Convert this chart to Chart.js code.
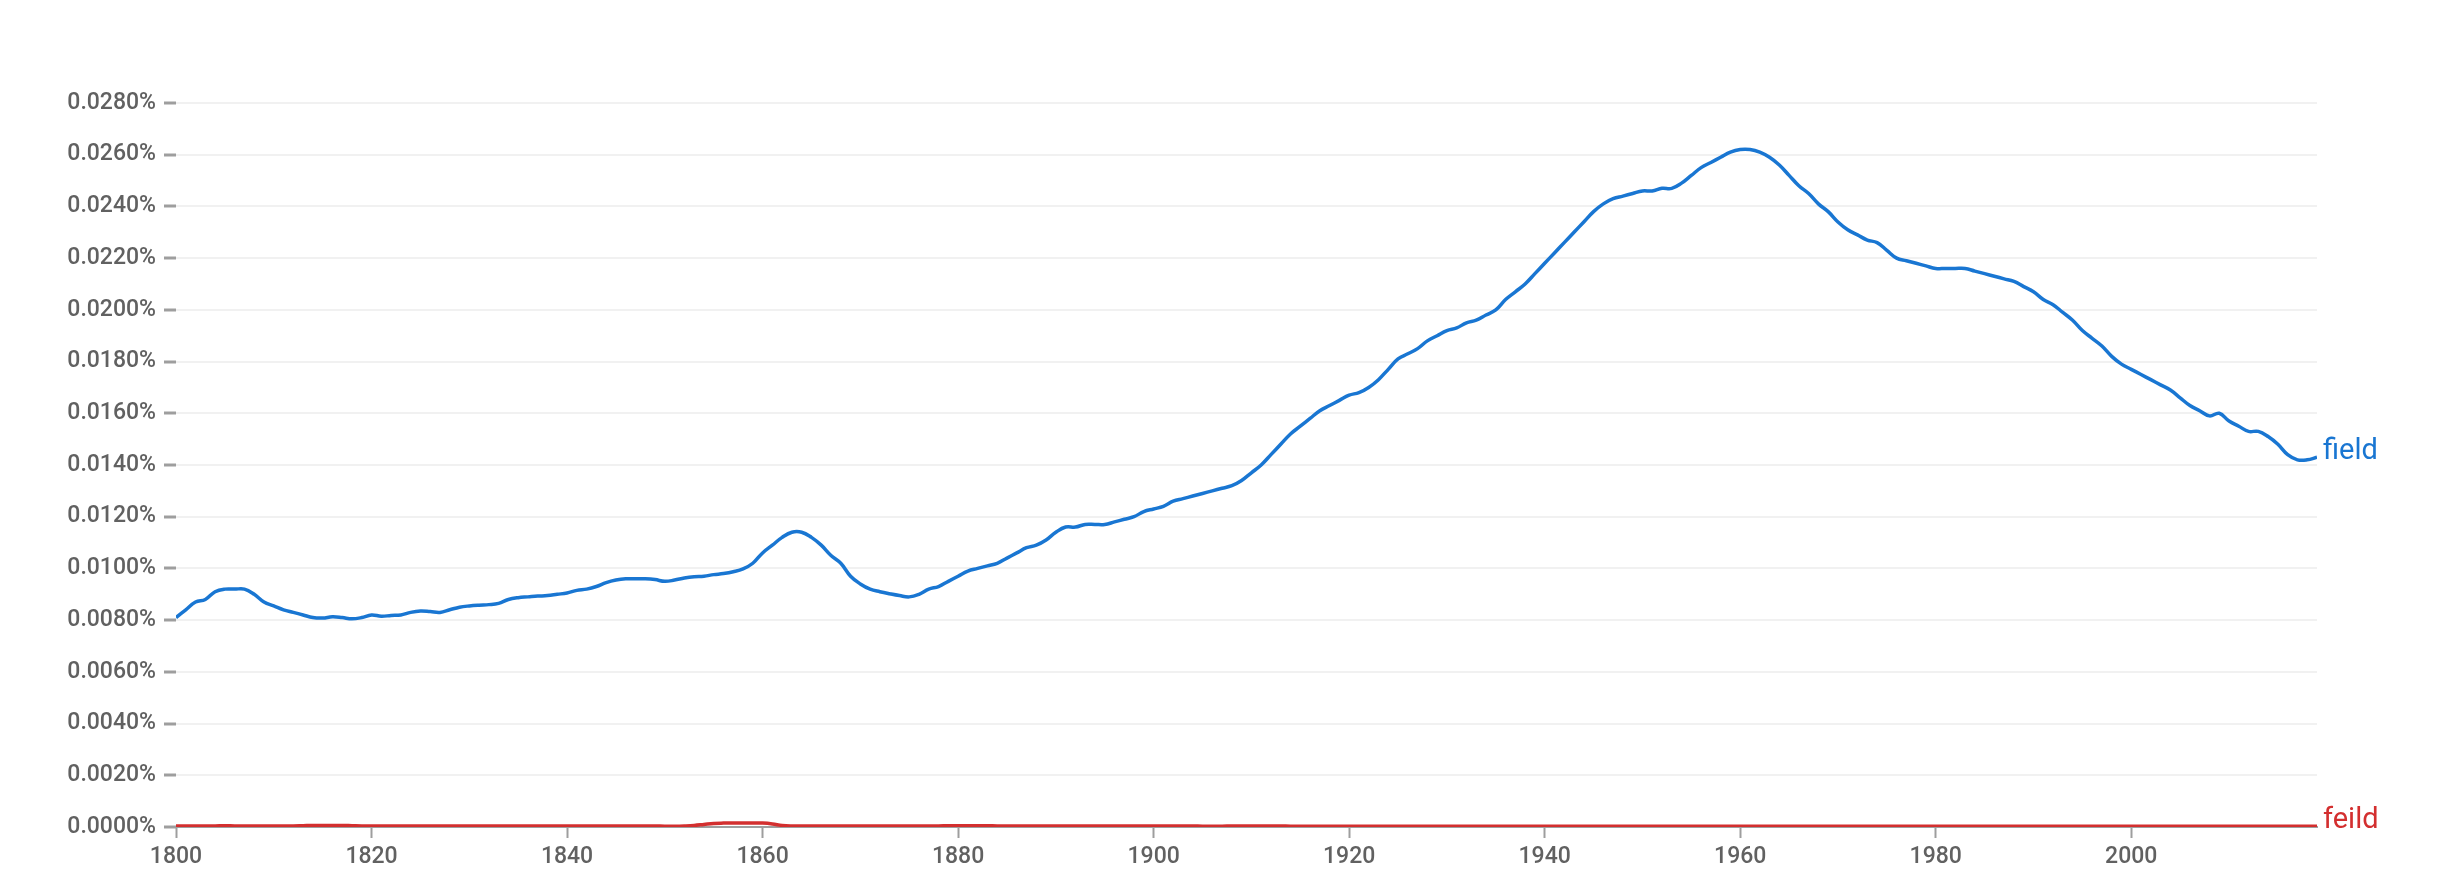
<!DOCTYPE html>
<html>
<head>
<meta charset="utf-8">
<script src="https://cdn.jsdelivr.net/npm/chart.js@4"></script>
<style>
  html, body { margin: 0; padding: 0; background: #fff; }
  #wrap { width: 2448px; height: 892px; }
</style>
</head>
<body>
<div id="wrap"><canvas id="ngram" width="2448" height="892"></canvas></div>
<script>
// years on the x axis
const firstYear = 1800;
const lastYear = 2019;
const years = Array.from({ length: lastYear - firstYear + 1 }, (_, i) => firstYear + i);

// "field" share in percent, one value per year
const fieldValues = [
  0.0081, 0.0084, 0.0087, 0.0088, 0.0091, 0.0092, 0.0092, 0.0092, 0.0090, 0.0087,   // 1800
  0.00855, 0.0084, 0.0083, 0.0082, 0.0081, 0.00808, 0.00813, 0.0081, 0.00805, 0.0081, // 1810
  0.0082, 0.00815, 0.00818, 0.0082, 0.0083, 0.00835, 0.00833, 0.0083, 0.0084, 0.0085, // 1820
  0.00855, 0.00858, 0.0086, 0.00865, 0.0088, 0.00887, 0.0089, 0.00893, 0.00895, 0.0090, // 1830
  0.00905, 0.00915, 0.0092, 0.0093, 0.00945, 0.00955, 0.0096, 0.0096, 0.0096, 0.00957, // 1840
  0.0095, 0.00955, 0.00963, 0.00968, 0.0097, 0.00976, 0.0098, 0.00987, 0.00998, 0.0102, // 1850
  0.0106, 0.0109, 0.0112, 0.0114, 0.0114, 0.0112, 0.0109, 0.0105, 0.0102, 0.0097,     // 1860
  0.0094, 0.0092, 0.0091, 0.00902, 0.00895, 0.0089, 0.0090, 0.0092, 0.0093, 0.0095,   // 1870
  0.0097, 0.0099, 0.0100, 0.0101, 0.0102, 0.0104, 0.0106, 0.0108, 0.0109, 0.0111,    // 1880
  0.0114, 0.0116, 0.0116, 0.0117, 0.0117, 0.0117, 0.0118, 0.0119, 0.0120, 0.0122,    // 1890
  0.0123, 0.0124, 0.0126, 0.0127, 0.0128, 0.0129, 0.0130, 0.0131, 0.0132, 0.0134,    // 1900
  0.0137, 0.0140, 0.0144, 0.0148, 0.0152, 0.0155, 0.0158, 0.0161, 0.0163, 0.0165,    // 1910
  0.0167, 0.0168, 0.0170, 0.0173, 0.0177, 0.0181, 0.0183, 0.0185, 0.0188, 0.0190,    // 1920
  0.0192, 0.0193, 0.0195, 0.0196, 0.0198, 0.0200, 0.0204, 0.0207, 0.0210, 0.0214,    // 1930
  0.0218, 0.0222, 0.0226, 0.0230, 0.0234, 0.0238, 0.0241, 0.0243, 0.0244, 0.0245,    // 1940
  0.0246, 0.0246, 0.0247, 0.0247, 0.0249, 0.0252, 0.0255, 0.0257, 0.0259, 0.0261,    // 1950
  0.0262, 0.0262, 0.0261, 0.0259, 0.0256, 0.0252, 0.0248, 0.0245, 0.0241, 0.0238,    // 1960
  0.0234, 0.0231, 0.0229, 0.0227, 0.0226, 0.0223, 0.0220, 0.0219, 0.0218, 0.0217,    // 1970
  0.0216, 0.0216, 0.0216, 0.0216, 0.0215, 0.0214, 0.0213, 0.0212, 0.0211, 0.0209,    // 1980
  0.0207, 0.0204, 0.0202, 0.0199, 0.0196, 0.0192, 0.0189, 0.0186, 0.0182, 0.0179,    // 1990
  0.0177, 0.0175, 0.0173, 0.0171, 0.0169, 0.0166, 0.0163, 0.0161, 0.0159, 0.0160,    // 2000
  0.0157, 0.0155, 0.0153, 0.0153, 0.0151, 0.0148, 0.0144, 0.0142, 0.0142, 0.0143     // 2010
];

// "feild" share in percent, almost flat on the floor
const feildValues = [
  0.00004, 0.00004, 0.00004, 0.00004, 0.00004, 0.00005, 0.00004, 0.00004, 0.00004, 0.00004, // 1800
  0.00004, 0.00004, 0.00004, 0.00005, 0.00006, 0.00006, 0.00006, 0.00006, 0.00005, 0.00004, // 1810
  0.00004, 0.00004, 0.00004, 0.00004, 0.00004, 0.00004, 0.00004, 0.00004, 0.00004, 0.00004, // 1820
  0.00004, 0.00004, 0.00004, 0.00004, 0.00004, 0.00004, 0.00004, 0.00004, 0.00004, 0.00004, // 1830
  0.00004, 0.00004, 0.00004, 0.00004, 0.00004, 0.00004, 0.00004, 0.00004, 0.00004, 0.00004, // 1840
  0.00003, 0.00003, 0.00004, 0.00006, 0.00010, 0.00014, 0.00015, 0.00015, 0.00015, 0.00015, // 1850
  0.00015, 0.00012, 0.00006, 0.00004, 0.00004, 0.00004, 0.00004, 0.00004, 0.00004, 0.00004, // 1860
  0.00004, 0.00004, 0.00004, 0.00004, 0.00004, 0.00004, 0.00004, 0.00004, 0.00004, 0.00005, // 1870
  0.00005, 0.00005, 0.00005, 0.00005, 0.00004, 0.00004, 0.00004, 0.00004, 0.00004, 0.00004, // 1880
  0.00004, 0.00004, 0.00004, 0.00004, 0.00004, 0.00004, 0.00004, 0.00004, 0.00004, 0.00004, // 1890
  0.00004, 0.00004, 0.00004, 0.00004, 0.00004, 0.00003, 0.00003, 0.00003, 0.00004, 0.00004, // 1900
  0.00004, 0.00004, 0.00004, 0.00004, 0.00003, 0.00003, 0.00003, 0.00003, 0.00003, 0.00003, // 1910
  0.00003, 0.00003, 0.00003, 0.00003, 0.00003, 0.00003, 0.00003, 0.00003, 0.00003, 0.00003, // 1920
  0.00003, 0.00003, 0.00003, 0.00003, 0.00003, 0.00003, 0.00003, 0.00003, 0.00003, 0.00003, // 1930
  0.00003, 0.00003, 0.00003, 0.00003, 0.00003, 0.00003, 0.00003, 0.00003, 0.00003, 0.00003, // 1940
  0.00003, 0.00003, 0.00003, 0.00003, 0.00003, 0.00003, 0.00003, 0.00003, 0.00003, 0.00003, // 1950
  0.00003, 0.00003, 0.00003, 0.00003, 0.00003, 0.00003, 0.00003, 0.00003, 0.00003, 0.00003, // 1960
  0.00003, 0.00003, 0.00003, 0.00003, 0.00003, 0.00003, 0.00003, 0.00003, 0.00003, 0.00003, // 1970
  0.00003, 0.00003, 0.00003, 0.00003, 0.00003, 0.00003, 0.00003, 0.00003, 0.00003, 0.00003, // 1980
  0.00003, 0.00003, 0.00003, 0.00003, 0.00003, 0.00003, 0.00003, 0.00003, 0.00003, 0.00003, // 1990
  0.00003, 0.00003, 0.00003, 0.00003, 0.00003, 0.00003, 0.00003, 0.00003, 0.00003, 0.00003, // 2000
  0.00003, 0.00003, 0.00003, 0.00003, 0.00003, 0.00003, 0.00003, 0.00003, 0.00003, 0.00003  // 2010
];

const seriesNames = ['field', 'feild'];
const seriesColors = ['#1976d2', '#d32f2f'];

// y ticks: 0.0000% .. 0.0280%
const yMax = 0.028;
const yStep = 0.002;
const xStep = 20;

const axisText = '#616161';
const tickGray = '#9e9e9e';
const tickFont = { family: 'Roboto', size: 23, weight: '500' };

// draws the series name just right of the last point
const endLabels = {
  id: 'endLabels',
  afterDatasetsDraw(chart) {
    const ctx = chart.ctx;
    ctx.save();
    ctx.font = '29px Roboto';
    ctx.textAlign = 'left';
    ctx.textBaseline = 'alphabetic';
    chart.data.datasets.forEach((ds, i) => {
      const pts = chart.getDatasetMeta(i).data;
      const last = pts[pts.length - 1];
      ctx.fillStyle = ds.borderColor;
      ctx.fillText(ds.label, chart.chartArea.right + 6, last.y + 2);
    });
    ctx.restore();
  }
};

const toPoints = vals => vals.map((v, i) => ({ x: years[i], y: v }));

new Chart(document.getElementById('ngram'), {
  type: 'line',
  data: {
    datasets: [
      { label: seriesNames[0], data: toPoints(fieldValues), borderColor: seriesColors[0], borderWidth: 3.5 },
      { label: seriesNames[1], data: toPoints(feildValues), borderColor: seriesColors[1], borderWidth: 3.5 }
    ]
  },
  options: {
    responsive: false,
    devicePixelRatio: 1,
    animation: false,
    layout: { padding: { top: 103, right: 131, left: 0, bottom: 0 } },
    elements: {
      point: { radius: 0 },
      line: { tension: 0.4, fill: false }
    },
    plugins: {
      legend: { display: false },
      tooltip: { enabled: false }
    },
    scales: {
      x: {
        type: 'linear',
        min: firstYear,
        max: lastYear,
        afterBuildTicks: s => { s.ticks = s.ticks.filter(t => t.value % xStep === 0); },
        afterFit: s => { s.height = 65; },
        ticks: {
          stepSize: xStep,
          autoSkip: false,
          maxRotation: 0,
          padding: 5,
          color: axisText,
          font: tickFont,
          callback: v => String(v)
        },
        grid: {
          drawOnChartArea: false,
          drawTicks: true,
          tickLength: 11,
          tickColor: tickGray,
          tickWidth: 2
        },
        border: { display: true, color: tickGray, width: 2 }
      },
      y: {
        min: 0,
        max: yMax,
        afterFit: s => { s.width = 176; },
        ticks: {
          stepSize: yStep,
          padding: 8,
          color: axisText,
          font: tickFont,
          callback: v => v.toFixed(4) + '%'
        },
        grid: {
          color: '#f1f1f1',
          lineWidth: 2,
          tickLength: 12,
          tickColor: tickGray,
          tickWidth: 3
        },
        border: { display: false }
      }
    }
  },
  plugins: [endLabels]
});
</script>
</body>
</html>
